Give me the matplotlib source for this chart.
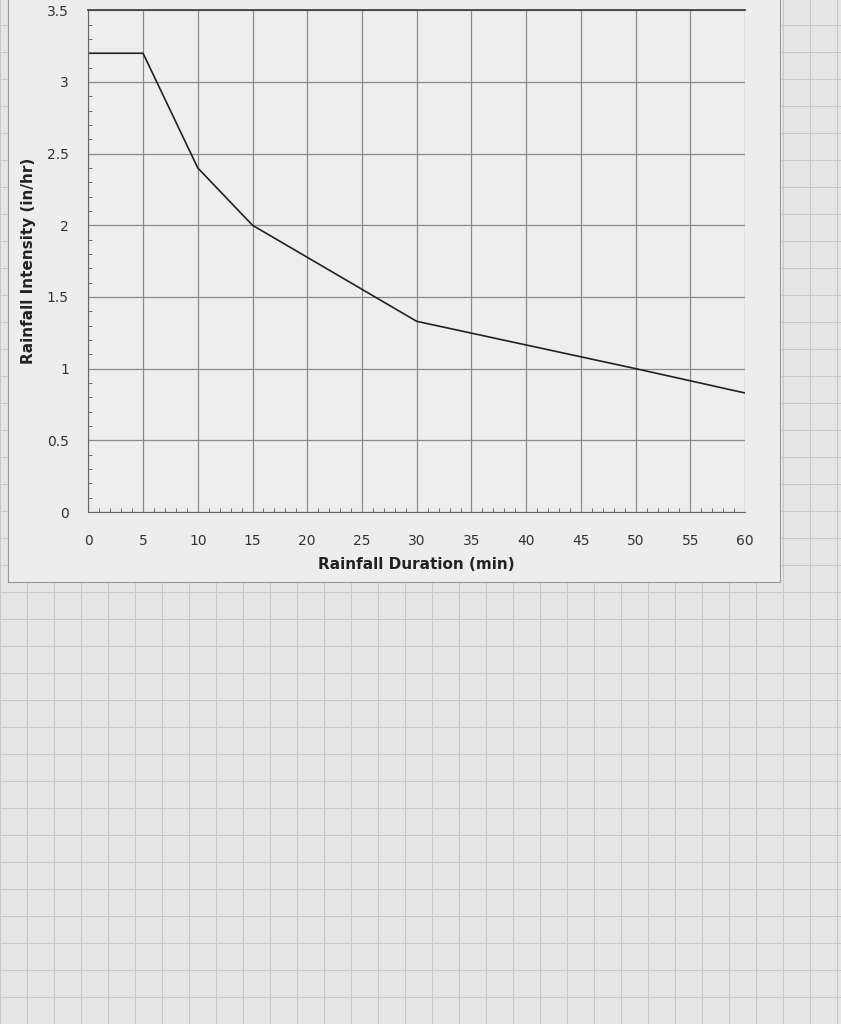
import numpy as np
import matplotlib.pyplot as plt
from matplotlib.ticker import MultipleLocator

duration = [0, 5, 10, 15, 30, 50, 60]
intensity = [3.2, 3.2, 2.4, 2.0, 1.33, 1.0, 0.83]
x_ticks = list(range(0, 65, 5))
y_ticks = [0, 0.5, 1, 1.5, 2, 2.5, 3, 3.5]

fig = plt.figure(figsize=(8.41, 10.24), dpi=100)
fig.patch.set_facecolor("#e4e4e4")

# graph paper behind the printout
bg = fig.add_axes([0, 0, 1, 1], zorder=0)
bg.set_xlim(0, 841)
bg.set_ylim(0, 1024)
bg.xaxis.set_major_locator(MultipleLocator(27))
bg.yaxis.set_major_locator(MultipleLocator(27))
bg.grid(True, color="#c8c8c8", lw=0.8)
bg.set_facecolor("#e6e6e6")
bg.tick_params(length=0, labelbottom=False, labelleft=False)
for s in bg.spines.values():
    s.set_visible(False)

# printed sheet
sheet = fig.add_axes([0.01, 0.432, 0.918, 0.57], zorder=1)
sheet.set_facecolor("#ededed")
sheet.set_xticks([])
sheet.set_yticks([])
for s in sheet.spines.values():
    s.set_color("#999999")

ax = fig.add_axes([0.105, 0.5, 0.781, 0.49], zorder=2)
ax.set_facecolor("#eeeeee")
ax.plot(duration, intensity, color="#222222", lw=1.2)
ax.set_xlim(0, 60)
ax.set_ylim(0, 3.5)
ax.set_xticks(x_ticks)
ax.set_yticks(y_ticks)
ax.set_yticklabels(["0", "0.5", "1", "1.5", "2", "2.5", "3", "3.5"])
ax.xaxis.set_minor_locator(MultipleLocator(1))
ax.yaxis.set_minor_locator(MultipleLocator(0.1))
ax.grid(True, which="major", color="#8a8a8a", lw=0.9)
ax.tick_params(which="both", direction="in", color="#555555", labelsize=10,
               labelcolor="#333333")
ax.tick_params(axis="x", pad=16)
ax.tick_params(axis="y", pad=14)
ax.tick_params(which="minor", length=3)
ax.tick_params(which="major", length=0)
ax.spines["right"].set_visible(False)
ax.spines["top"].set_color("#444444")
ax.spines["top"].set_linewidth(1.3)
ax.spines["left"].set_color("#666666")
ax.spines["bottom"].set_color("#666666")
ax.set_xlabel("Rainfall Duration (min)", fontsize=11, color="#222222",
              fontweight="semibold", labelpad=6)
ax.set_ylabel("Rainfall Intensity (in/hr)", fontsize=11, color="#222222",
              fontweight="bold", labelpad=8)

fig.savefig("out.png", dpi=100, facecolor=fig.get_facecolor())
